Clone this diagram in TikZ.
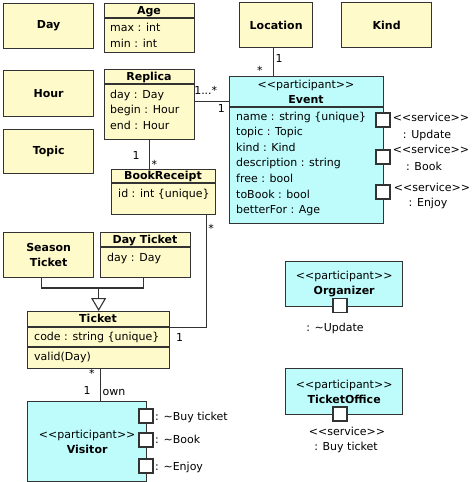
\documentclass[tikz,border=0pt]{standalone}
\usepackage{fontspec}
\setmainfont{DejaVu Sans}[Ligatures=TeXOff]
\usepackage{tikz}
\usetikzlibrary{positioning,arrows.meta}
\definecolor{clsyellow}{RGB}{255,250,202}
\definecolor{partcyan}{RGB}{190,252,252}
\newcommand\dfont{\fontsize{11}{15}\selectfont}

\begin{document}
\begin{tikzpicture}[x=1pt,y=-1pt,
	every node/.style={font=\dfont},
	cls/.style={draw=black!80, line width=1.3pt, fill=clsyellow, anchor=north west, inner sep=0pt, align=center, font=\dfont\bfseries},
	part/.style={cls, fill=partcyan, font=\dfont},
	port/.style={draw=black!80, line width=1.1pt, fill=white, minimum size=14pt, inner sep=0pt},
	txt/.style={inner sep=0pt, text height=8pt, text depth=2pt},
	attr/.style={txt, anchor=west},
	head/.style={txt, font=\dfont\bfseries},
	sep/.style={draw=black!80, line width=1.1pt},
	assoc/.style={draw=black!80, line width=1.1pt},
	mult/.style={inner sep=1.5pt}]
	\useasboundingbox (0,0) rectangle (474,482);

	% plain types
	\node[cls, minimum width=90, minimum height=45] (day) at (3,3) {Day};
	\node[cls, minimum width=90, minimum height=46] (hour) at (3,70) {Hour};
	\node[cls, minimum width=90, minimum height=44] (topic) at (3,129) {Topic};
	\node[cls, minimum width=73, minimum height=45] (location) at (239,2) {Location};
	\node[cls, minimum width=90, minimum height=45] (kind) at (341,2) {Kind};
	\node[cls, minimum width=90, minimum height=45] (season) at (3,232) {Season\\Ticket};

	% classes with attributes
	\node[cls, minimum width=90, minimum height=49] (age) at (104,3) {};
	\node[head] (age-h) at (149,11) {Age};
	\draw[sep] (104,18) -- (194,18);
	\node[attr] (age-1) at (110,28) {max : int};
	\node[attr] (age-2) at (110,44) {min : int};

	\node[cls, minimum width=90, minimum height=70] (replica) at (104,69) {};
	\node[head] (replica-h) at (149,77) {Replica};
	\draw[sep] (104,84) -- (194,84);
	\node[attr] (replica-1) at (110,95) {day : Day};
	\node[attr] (replica-2) at (110,110) {begin : Hour};
	\node[attr] (replica-3) at (110,126) {end : Hour};

	\node[cls, minimum width=104, minimum height=45] (receipt) at (111,169) {};
	\node[head] (receipt-h) at (163,176) {BookReceipt};
	\draw[sep] (111,183) -- (215,183);
	\node[attr] (receipt-1) at (118,194) {id : int \{unique\}};

	\node[cls, minimum width=90, minimum height=45] (dayt) at (100,232) {};
	\node[head] (dayt-h) at (145,240) {Day Ticket};
	\draw[sep] (100,247) -- (190,247);
	\node[attr] (dayt-1) at (107,258) {day : Day};

	\node[cls, minimum width=142, minimum height=57] (ticket) at (27,311) {};
	\node[head] (ticket-h) at (98,319) {Ticket};
	\draw[sep] (27,327) -- (169,327);
	\node[attr] (ticket-1) at (34,337) {code : string \{unique\}};
	\draw[sep] (27,347) -- (169,347);
	\node[attr] (ticket-2) at (34,357) {valid(Day)};

	% participants
	\node[part, minimum width=154, minimum height=147] (event) at (229,76) {};
	\node[txt] (event-s) at (306,85) {<<participant>>};
	\node[head] (event-h) at (306,100) {Event};
	\draw[sep] (229,107) -- (383,107);
	\foreach \a [count=\i] in {name : string \{unique\}, topic : Topic, kind : Kind,
		description : string, free : bool, toBook : bool, betterFor : Age}
		\node[attr] (event-\i) at (236,101.4+15.6*\i) {\a};

	\node[part, minimum width=119, minimum height=80] (visitor) at (27,401) {<<participant>>\\\textbf{Visitor}};
	\node[part, minimum width=117, minimum height=45] (organizer) at (285,261) {<<participant>>\\\textbf{Organizer}};
	\node[part, minimum width=117, minimum height=46] (office) at (285,368) {<<participant>>\\\textbf{TicketOffice}};

	% ports
	\node[port] (evp1) at (383,120) {};
	\node[port] (evp2) at (383,157) {};
	\node[port] (evp3) at (383,192) {};
	\node[txt] (evs1) at (431,118) {<<service>>};
	\node[txt] (evl1) at (427,135) {: Update};
	\node[txt] (evs2) at (431,150) {<<service>>};
	\node[txt] (evl2) at (424,167) {: Book};
	\node[txt] (evs3) at (432,188) {<<service>>};
	\node[txt] (evl3) at (428,203) {: Enjoy};

	\node[port] (vip1) at (146,416) {};
	\node[port] (vip2) at (146,440) {};
	\node[port] (vip3) at (146,466) {};
	\node[attr] (vil1) at (155,417) {: \textasciitilde Buy ticket};
	\node[attr] (vil2) at (155,440) {: \textasciitilde Book};
	\node[attr] (vil3) at (155,467) {: \textasciitilde Enjoy};

	\node[port] (orp) at (340,305.5) {};
	\node[txt] (orl) at (335,328) {: \textasciitilde Update};
	\node[port] (ofp) at (340,414) {};
	\node[txt] (ofs) at (347,432) {<<service>>};
	\node[txt] (ofl) at (346,447) {: Buy ticket};

	% associations
	\coordinate (locb) at ([xshift=-2.5pt]location.south);
	\draw[assoc] (locb) -- (locb |- event.north)
		node[pos=0.38, right, mult] {1} node[pos=0.8, left=9pt, mult] {*};
	\coordinate (repe) at ([yshift=3pt]replica.east);
	\draw[assoc] (repe) -- (repe -| event.west)
		node[pos=0.31, above=5pt, mult] {1...*} node[pos=0.77, below=1pt, mult] {1};
	\draw[assoc] (replica.south) -- (replica.south |- receipt.north)
		node[pos=0.53, left=8pt, mult] {1} node[pos=0.83, right, mult] {*};
	\coordinate (recb) at ([xshift=-10pt]receipt.south east);
	\coordinate (tke) at ([yshift=12.5pt]ticket.east);
	\draw[assoc] (recb) |- (tke)
		node[pos=0.06, right, mult] {*} node[pos=0.87, below=4pt, mult] {1};
	\coordinate (tks) at ([xshift=2pt]ticket.south);
	\draw[assoc] (tks) -- (tks |- visitor.north)
		node[pos=0.12, left=4pt, mult] {*} node[pos=0.67, left=8pt, mult] {1}
		node[pos=0.72, right, mult] {own};

	% generalization
	\coordinate (sst) at ([xshift=-7pt]season.south);
	\coordinate (dts) at ([xshift=-2pt]dayt.south);
	\coordinate (gen) at ([yshift=23pt]ticket.north);
	\draw[assoc] (sst) |- (gen) -| (dts);
	\draw[assoc, -{Triangle[open, length=13pt, width=15pt]}] (gen) -- (ticket.north);
\end{tikzpicture}
\end{document}
